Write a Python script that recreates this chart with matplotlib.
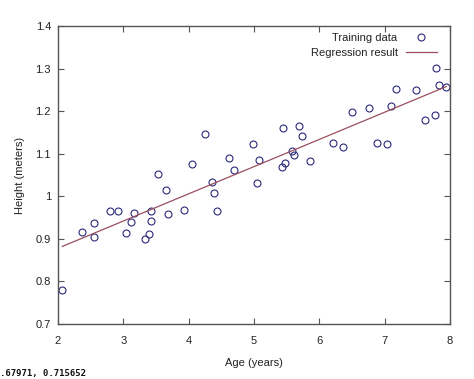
import numpy as np
import matplotlib
matplotlib.use("Agg")
import matplotlib.pyplot as plt

# ---- data ----
age = [2.066, 2.372, 2.546, 2.556, 2.791, 2.913, 3.036, 3.117, 3.163, 3.332,
       3.388, 3.424, 3.424, 3.536, 3.648, 3.684, 3.924, 4.046, 4.255, 4.357,
       4.388, 4.434, 4.617, 4.694, 4.985, 5.046, 5.077, 5.423, 5.449, 5.475,
       5.582, 5.617, 5.694, 5.730, 5.862, 6.214, 6.357, 6.495, 6.755, 6.877,
       7.036, 7.092, 7.169, 7.485, 7.623, 7.766, 7.786, 7.837, 7.944]
height = [0.779, 0.915, 0.905, 0.938, 0.965, 0.965, 0.913, 0.940, 0.960, 0.899,
          0.912, 0.965, 0.941, 1.052, 1.014, 0.958, 0.967, 1.076, 1.146, 1.034,
          1.007, 0.966, 1.090, 1.062, 1.123, 1.032, 1.086, 1.069, 1.161, 1.078,
          1.107, 1.097, 1.164, 1.142, 1.084, 1.124, 1.116, 1.197, 1.207, 1.124,
          1.123, 1.212, 1.252, 1.249, 1.180, 1.190, 1.302, 1.261, 1.256]
# regression result (intercept, slope)
reg_intercept = 0.7502
reg_slope = 0.0639

x_ticks = [2, 3, 4, 5, 6, 7, 8]
y_ticks = [0.7, 0.8, 0.9, 1.0, 1.1, 1.2, 1.3, 1.4]
y_ticklabels = ["0.7", "0.8", "0.9", "1", "1.1", "1.2", "1.3", "1.4"]

plt.rcParams['font.family'] = ['Liberation Sans', 'DejaVu Sans']

fig = plt.figure(figsize=(4.74, 3.79), dpi=100)
ax = fig.add_axes([58/474, 1-324/379, (450-58)/474, (324-26)/379])

ax.plot(age, height, linestyle='none', marker='o', markersize=5.0,
        markerfacecolor='none', markeredgecolor='#2a2a7a', markeredgewidth=0.8,
        label='Training data')
xl = np.array([min(age), max(age)])
ax.plot(xl, reg_intercept + reg_slope * xl, color='#9a4f5e', linewidth=0.9,
        label='Regression result')

ax.set_xlim(2, 8)
ax.set_ylim(0.7, 1.4)
ax.set_xticks(x_ticks)
ax.set_yticks(y_ticks)
ax.set_yticklabels(y_ticklabels)
ax.tick_params(direction='in', length=4, width=0.8, color='#555555',
               top=True, right=True, labelsize=8, labelcolor='#222222')
ax.tick_params(axis='x', pad=9)
ax.tick_params(axis='y', pad=5)
for s in ax.spines.values():
    s.set_color('#555555')
    s.set_linewidth(1.0)

ax.set_xlabel('Age (years)', fontsize=8, color='#222222', labelpad=8.5)
ax.set_ylabel('Height (meters)', fontsize=8, color='#222222', labelpad=7.5)

leg = ax.legend(loc='upper right', bbox_to_anchor=(1 - 13/392, 1 - 7/298),
                markerfirst=False, frameon=False, fontsize=8, numpoints=1,
                handlelength=2.8, handletextpad=0.75, labelspacing=0.42,
                borderpad=0, borderaxespad=0)
for t in leg.get_texts():
    t.set_color('#222222')

fig.text(0.0, 3/379, '.67971, 0.715652', fontsize=6.4, fontweight='bold',
         family='DejaVu Sans Mono', ha='left', va='baseline', color='#111111')

fig.savefig('out.png', dpi=100)
